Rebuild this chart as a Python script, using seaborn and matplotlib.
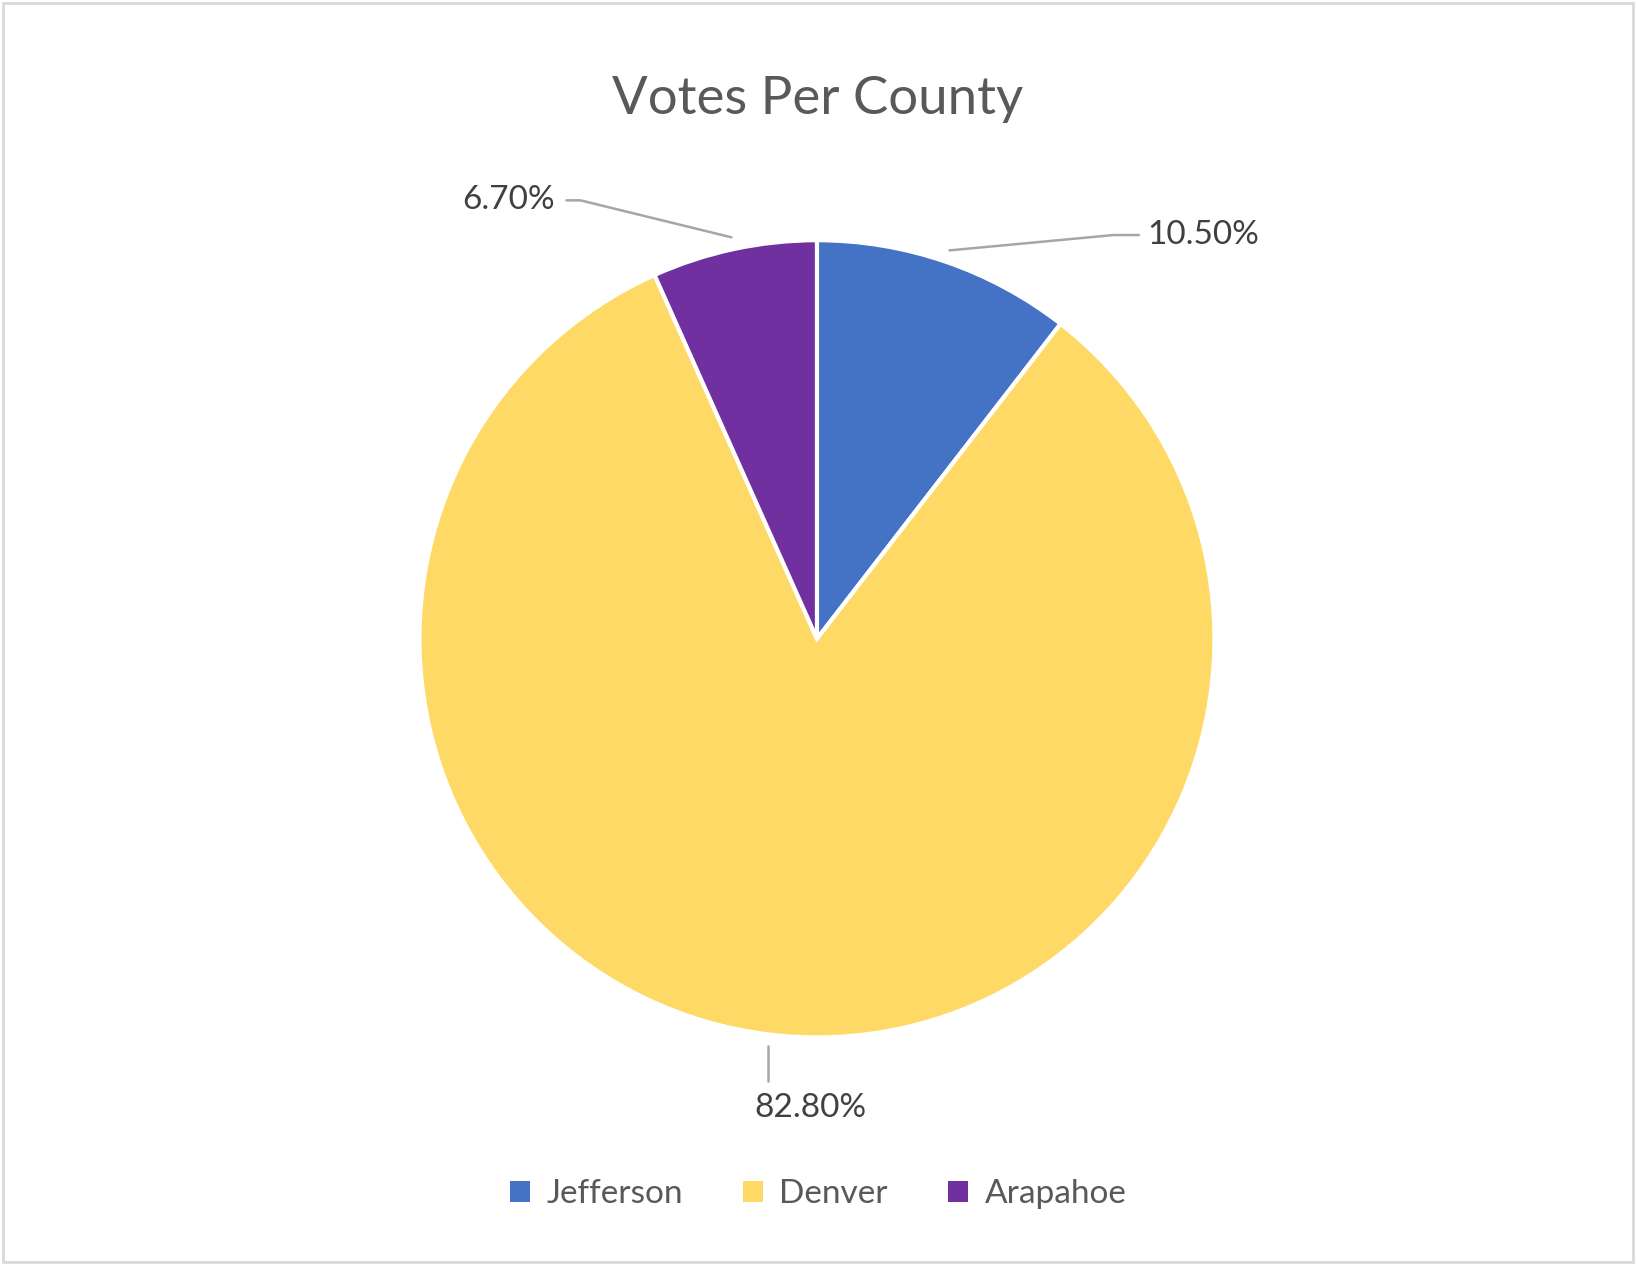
import matplotlib
matplotlib.use("Agg")
import matplotlib.pyplot as plt
import seaborn as sns
import numpy as np
from matplotlib.patches import Patch, Rectangle

sns.set_theme(style="white")
plt.rcParams['font.family'] = ['Lato', 'DejaVu Sans']

counties = ["Jefferson", "Denver", "Arapahoe"]
shares = [10.5, 82.8, 6.7]
labels = ["10.50%", "82.80%", "6.70%"]
colors = ["#4472C4", "#FFD966", "#7030A0"]
txt = "#595959"

W, H = 1564, 1206
cx, cy, R = 781, 609, 380
fig = plt.figure(figsize=(16.36, 12.65), dpi=100)
ax = fig.add_axes([0, 0, 1, 1])
ax.pie(shares, colors=colors, startangle=90, counterclock=False,
       wedgeprops=dict(edgecolor="white", linewidth=3))
ax.set_xlim(-cx / R, (W - cx) / R)
ax.set_ylim(-(H - cy) / R, cy / R)
ax.set_aspect("auto")
ax.axis("off")

# leader lines and labels
cum = np.cumsum([0] + shares[:-1])
mids = [90 - (c + s / 2) * 3.6 for c, s in zip(cum, shares)]
pts = [np.array([np.cos(np.radians(m)), np.sin(np.radians(m))]) * 1.03 for m in mids]
lc = "#A6A6A6"
# Jefferson
p = pts[0]
ax.plot([p[0], 0.747, 0.81], [p[1], 1.013, 1.013], color=lc, lw=1.8)
ax.text(0.83, 1.013, labels[0], ha="left", va="center", fontsize=24, color="#404040")
# Denver
p = pts[1]
ax.plot([p[0], p[0]], [p[1], -1.11], color=lc, lw=1.8)
ax.text(-0.016, -1.14, labels[1], ha="center", va="top", fontsize=24, color="#404040")
# Arapahoe
p = pts[2]
ax.plot([p[0], -0.595, -0.63], [p[1], 1.1, 1.1], color=lc, lw=1.8)
ax.text(-0.66, 1.1, labels[2], ha="right", va="center", fontsize=24, color="#404040")

fig.suptitle("Votes Per County", y=0.94, fontsize=38, color=txt)
handles = [Patch(facecolor=c, edgecolor="none") for c in colors]
fig.legend(handles, counties, loc="center", bbox_to_anchor=(0.5, 0.056), ncol=3,
           frameon=False, fontsize=24, handlelength=0.6, handleheight=0.6,
           columnspacing=1.8, handletextpad=0.5, labelcolor=txt)
fig.patches.append(Rectangle((0.002, 0.002), 0.996, 0.996, transform=fig.transFigure,
                             fill=False, edgecolor="#D9D9D9", lw=2))
fig.savefig("out.png", dpi=100)
